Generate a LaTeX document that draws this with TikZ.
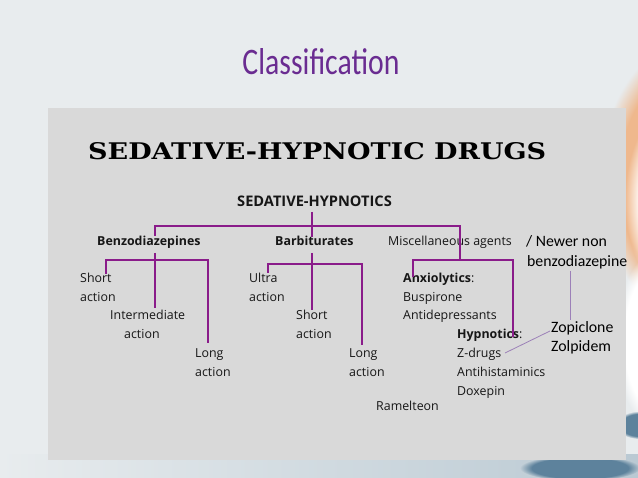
\documentclass[tikz,border=0pt]{standalone}
\usepackage{fontspec}
\setmainfont{Open Sans}
\newfontfamily\calib{Carlito}
\newfontfamily\headfont{DejaVu Serif}
\usepackage{graphicx}
\usetikzlibrary{calc,fadings}
\definecolor{bgc}{HTML}{E8ECEE}
\definecolor{panelc}{HTML}{D9D9D9}
\definecolor{treec}{HTML}{8A1C8A}
\definecolor{titlec}{HTML}{6A2C91}
\definecolor{thinc}{HTML}{9C80B8}
\definecolor{txtc}{HTML}{161616}
\definecolor{orangec}{HTML}{F2A66C}
\definecolor{bluec}{HTML}{2E5F80}
\begin{document}
\begin{tikzpicture}[x=1pt,y=-1pt,
  lbl/.style={anchor=base west,inner sep=0pt,text=txtc,font=\fontsize{12.4}{14}\selectfont},
  blbl/.style={lbl,font=\fontsize{12.4}{14}\selectfont\bfseries},
  note/.style={anchor=base west,inner sep=0pt,text=black,font=\calib\fontsize{15.8}{17}\selectfont},
  tree/.style={draw=treec,line width=2.4pt},
  thin/.style={draw=thinc,line width=0.8pt}]
\useasboundingbox (0,0) rectangle (638,478);
% background
\fill[bgc] (0,0) rectangle (638,478);
\fill[orangec!75!bgc,path fading=circle with fuzzy edge 20 percent] (695,180) ellipse (95 and 140);
\fill[white!90!orangec,path fading=circle with fuzzy edge 20 percent] (695,200) ellipse (70 and 110);
\fill[white,path fading=circle with fuzzy edge 20 percent] (660,340) ellipse (45 and 90);
\fill[left color=bgc,right color=bluec!25!bgc] (0,455) rectangle (638,478);
\fill[bluec!75!bgc,path fading=circle with fuzzy edge 20 percent] (580,468) ellipse (60 and 13);
\fill[bluec!75!bgc,path fading=circle with fuzzy edge 20 percent] (640,425) ellipse (24 and 14);
% panel
\fill[panelc] (48,108) rectangle (626,460);
% title
\node[inner sep=0pt,anchor=base,text=titlec] (title) at (321,75)
  {\resizebox{157pt}{26pt}{\calib Classification}};
% heading
\node[inner sep=0pt,anchor=base west,text=black] (heading) at (88,159.5)
  {\resizebox{458pt}{17pt}{\headfont\bfseries SEDATIVE-HYPNOTIC DRUGS}};
% tree texts
\node[blbl,anchor=base,font=\fontsize{14.6}{16}\selectfont\bfseries] (root) at (314.5,207) {SEDATIVE-HYPNOTICS};
\node[blbl] (benz) at (97,246) {Benzodiazepines};
\node[blbl] (barb) at (275,246) {Barbiturates};
\node[lbl] (misc) at (388,246) {Miscellaneous agents};
\node[note] (newer) at (526,247) {/ Newer non};
\node[note] (newer2) at (527,267) {benzodiazepine};
\node[lbl] (bs1) at (80,283) {Short};
\node[lbl] (bs2) at (80,301.5) {action};
\node[lbl] (bi1) at (110,320) {Intermediate};
\node[lbl] (bi2) at (124,339) {action};
\node[lbl] (bl1) at (195,358) {Long};
\node[lbl] (bl2) at (195,377) {action};
\node[lbl] (ru1) at (249,283) {Ultra};
\node[lbl] (ru2) at (249,301.5) {action};
\node[lbl] (rs1) at (296,320) {Short};
\node[lbl] (rs2) at (296,339) {action};
\node[lbl] (rl1) at (349,358) {Long};
\node[lbl] (rl2) at (349,377) {action};
\node[lbl] (anx) at (403,283) {\textbf{Anxiolytics}:};
\node[lbl] (busp) at (403,301.5) {Buspirone};
\node[lbl] (antid) at (403,320) {Antidepressants};
\node[lbl] (hyp) at (457,339) {\textbf{Hypnotics}:};
\node[lbl] (zdr) at (457,358) {Z-drugs};
\node[lbl] (anth) at (457,377) {Antihistaminics};
\node[lbl] (dox) at (457,396) {Doxepin};
\node[lbl] (ram) at (376,411) {Ramelteon};
\node[note] (zop) at (551,333) {Zopiclone};
\node[note] (zol) at (551,352) {Zolpidem};
% connector coordinates
\coordinate (rootb) at (312,212);
\coordinate (hr) at (460,226);
\coordinate (benzt) at (155,236);
\coordinate (barbt) at (312,237);
\coordinate (misct) at (460,260);
\coordinate (bzt) at (155,253);
\coordinate (bzr) at (208,260);
\coordinate (bzlend) at (106,274);
\coordinate (bzmend) at (155,308);
\coordinate (bzrend) at (208,343);
\coordinate (brt) at (312,253);
\coordinate (brr) at (362,264);
\coordinate (brlend) at (268,273);
\coordinate (brmend) at (312,310);
\coordinate (brrend) at (362,345);
\coordinate (mr) at (513,260);
\coordinate (mlend) at (413,277);
\coordinate (mrend) at (513,337);
% tree connectors
\draw[tree] (rootb) -- (barbt);
\draw[tree] (benzt) |- (hr) -- (misct);
\draw[tree] (bzt) -- (bzmend);
\draw[tree] (bzlend) |- (bzr) -- (bzrend);
\draw[tree] (brt) -- (brmend);
\draw[tree] (brlend) |- (brr) -- (brrend);
\draw[tree] (mlend) |- (mr) -- (mrend);
% thin connectors
\coordinate (nb) at (570,271);
\coordinate (zt) at (570,320);
\coordinate (zdend) at (505,353);
\coordinate (zopl) at (550,331);
\draw[thin] (nb) -- (zt);
\draw[thin] (zdend) -- (zopl);
\end{tikzpicture}
\end{document}
